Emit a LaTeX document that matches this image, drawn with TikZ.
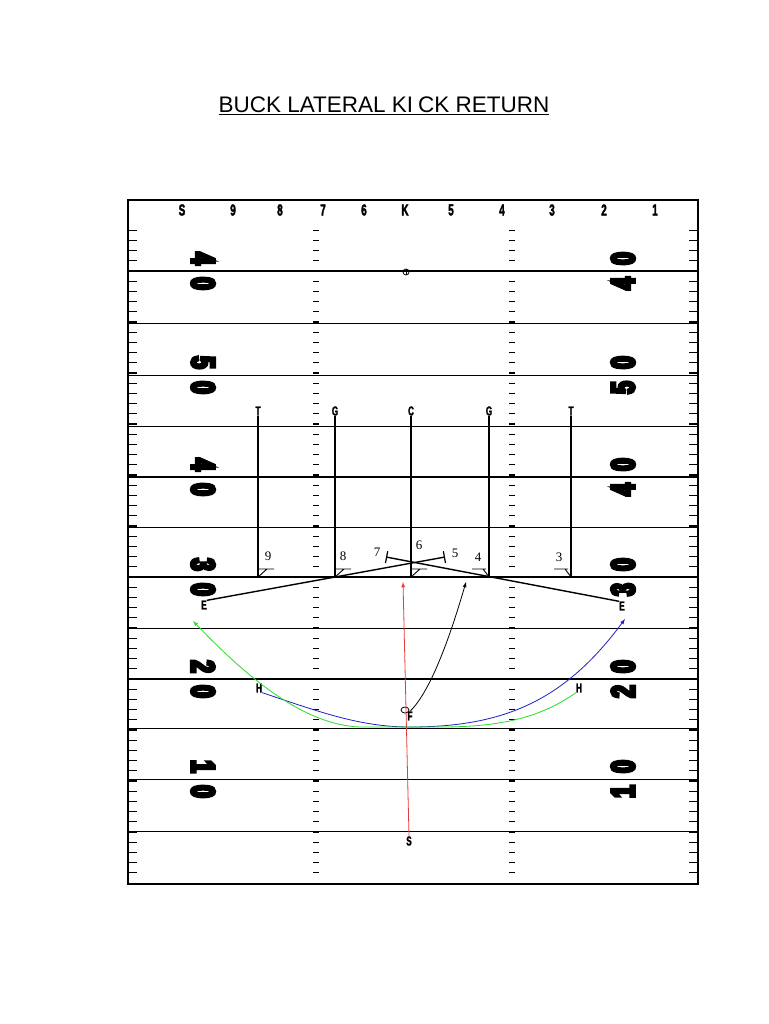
\documentclass[tikz,border=0pt]{standalone}
\usepackage{fontspec}
\setmainfont{Liberation Sans}
\newfontfamily\narrowfont[FakeStretch=0.62,FakeBold=2]{Liberation Sans Bold}
\newfontfamily\yardfont[FakeStretch=0.68,FakeBold=9]{Liberation Sans Bold}
\newfontfamily\serifnum{Liberation Serif}
\usetikzlibrary{positioning,arrows.meta}
\definecolor{runred}{RGB}{230,60,60}
\definecolor{rungreen}{RGB}{40,220,40}
\definecolor{runblue}{RGB}{30,30,200}
\tikzset{field/.style={draw,line width=2.2pt}}
\tikzset{tenline/.style={draw,line width=1.6pt}}
\tikzset{yardline/.style={draw,line width=1pt}}
\tikzset{hashmark/.style={draw,line width=1.3pt}}
\tikzset{toplabel/.style={font=\narrowfont\fontsize{16}{16}\selectfont,inner sep=0pt}}
\tikzset{player/.style={font=\narrowfont\fontsize{13}{13}\selectfont,inner sep=0pt}}
\tikzset{blocknum/.style={font=\serifnum\fontsize{13}{13}\selectfont,inner sep=0pt}}
\tikzset{yardnum/.style={font=\yardfont\fontsize{33}{33}\selectfont,inner sep=0pt}}
\tikzset{playerline/.style={draw,line width=1.4pt}}
\tikzset{blockmark/.style={draw,line width=0.9pt}}
\tikzset{blockline/.style={draw,line width=1.4pt,-{Bar[width=12pt,line width=1.2pt]}}}
\tikzstyle{arrow}=[draw, line width=0.8pt, -latex]

\begin{document}
\begin{tikzpicture}[x=1pt,y=-1pt]
    \path[use as bounding box,fill=white] (0,0) rectangle (768,1024);
    \node[font=\fontsize{22.5}{22.5}\selectfont,inner sep=0pt,anchor=base] (title) at (384,113) {\underline{BUCK LATERAL KI\kern5pt CK RETURN}};

    % field and yard lines
    \draw[field] (128,200) rectangle (698,884);
    \foreach \y in {271,477,577,679} \draw[tenline] (128,\y) -- (698,\y);
    \foreach \y in {323,375,426,527,628,728,779,831} \draw[yardline] (128,\y) -- (698,\y);
    \foreach \k in {-4,...,59} {
        \draw[hashmark] (128,271+10.2*\k) -- +(9,0);
        \draw[hashmark] (698,271+10.2*\k) -- +(-9,0);
        \draw[hashmark] (313,271+10.2*\k) -- +(6,0);
        \draw[hashmark] (509,271+10.2*\k) -- +(6,0);
    }
    \foreach \y/\a/\b in {271/4/0,375/5/0,477/4/0,577/3/0,679/2/0,779/1/0} {
        \node[yardnum,rotate=-90] (la\y) at (203,\y-12.5) {\a};
        \node[yardnum,rotate=-90] (lb\y) at (203,\y+12.5) {\b};
        \node[yardnum,rotate=90] (ra\y) at (623,\y+12.5) {\a};
        \node[yardnum,rotate=90] (rb\y) at (623,\y-12.5) {\b};
    }

    % kickoff team
    \foreach \t/\x [count=\i] in {S/182,9/233,8/280,7/323,6/364,K/405,5/451,4/502,3/552,2/604,1/655}
        \node[toplabel] (top\i) at (\x,210) {\t};
    \node[circle,draw,inner sep=0pt,minimum size=6pt,line width=0.8pt] (kicker) at (406,272) {};
        \draw[line width=0.8pt] (kicker.north) -- (kicker.south);

    % front line
    \coordinate (los) at (0,577);
    \foreach \n/\t/\x in {tl/T/258,gl/G/335,cc/C/411,gr/G/489,tr/T/571} {
        \node[player] (\n) at (\x,411) {\t};
            \path[playerline] (\n.south) -- (\n |- los);
    }
    \foreach \n in {tl,gl,cc}
        \path[blockmark] (\n |- los) -- ++(9,-8) (\n |- los) ++(0,-8) -- ++(16,0);
    \foreach \n in {gr,tr}
        \path[blockmark] (\n |- los) -- ++(-6,-8) (\n |- los) ++(-3,-8) -- ++(-14,0);
    \node[blocknum] (n9) at (268,556) {9};
    \node[blocknum] (n8) at (343,556) {8};
    \node[blocknum] (n7) at (377,552) {7};
    \node[blocknum] (n6) at (419,545) {6};
    \node[blocknum] (n5) at (455,553) {5};
    \node[blocknum] (n4) at (478,557) {4};
    \node[blocknum] (n3) at (559,557) {3};

    % ends
    \node[player] (el) at (204,605) {E};
    \node[player] (er) at (622,606) {E};
    \coordinate (b5) at (445,557);
    \coordinate (b7) at (386,557);
        \path[blockline] (el.north east) -- (b5);
        \path[blockline] (er.north west) -- (b7);

    % return
    \node[player] (s) at (409,841) {S};
    \node[player] (f) at (410,716) {F};
    \node[player] (hl) at (259,688) {H};
    \node[player] (hr) at (579,688) {H};
    \draw[line width=0.8pt] (405,710) ellipse (4pt and 3pt);
    \coordinate (sgoal) at (403,582);
    \coordinate (fgoal) at (466,582);
    \coordinate (hlgoal) at (625,619);
    \coordinate (hrgoal) at (193,621);
        \path[arrow,runred] (s.north) -- (sgoal);
        \path[arrow] (f.north) .. controls (432,690) and (452,630) .. (fgoal);
        \path[arrow,runblue] (hl.south east) .. controls (320,712) and (360,727) .. (410,727)
            .. controls (505,727) and (565,700) .. (hlgoal);
        \path[arrow,rungreen] (hr.south west) .. controls (540,718) and (500,727) .. (440,727)
            -- (360,727) .. controls (300,725) and (240,670) .. (hrgoal);
\end{tikzpicture}
\end{document}
